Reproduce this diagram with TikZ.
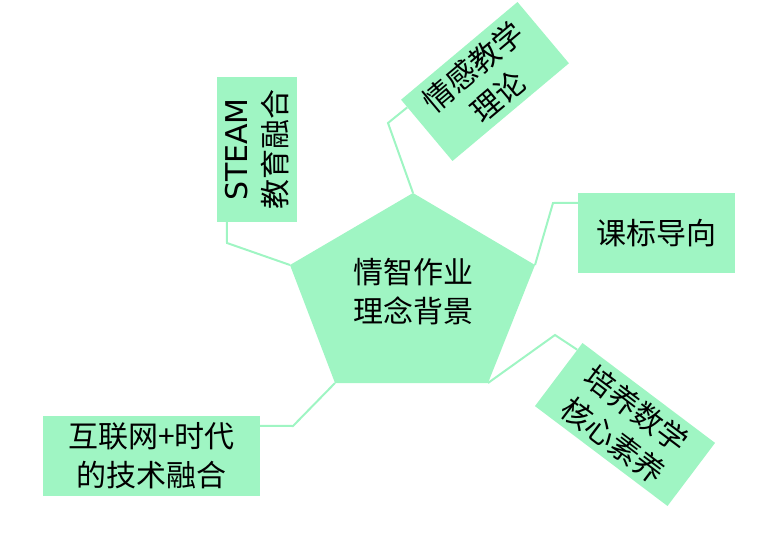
\documentclass[tikz,border=0pt]{standalone}
\usepackage{fontspec}
\setmainfont{Noto Sans CJK SC}
\newfontfamily\latinfont{DejaVu Sans}
\usetikzlibrary{calc}

\definecolor{mint}{HTML}{9FF5C3}

\begin{document}
\begin{tikzpicture}[
    x = 1pt, y = -1pt,
    every node/.style = {font = \fontsize{30}{39}\selectfont, align = center},
    topic/.style = {fill = mint, inner sep = 0pt, minimum height = 80pt},
    link/.style = {draw = mint, line width = 2pt},
  ]
  \useasboundingbox (0,0) rectangle (766,533);

  % pentagon corners
  \foreach \n/\x/\y in {p1/413/193, p2/535/265, p3/488/383, p4/335/383, p5/290/265}
    \coordinate (\n) at (\x,\y);
  \fill [mint] (p1) -- (p2) -- (p3) -- (p4) -- (p5) -- cycle;
  \node (core) at (413,292) {情智作业\\理念背景};

  % topics
  \node [topic, minimum width = 145pt, minimum height = 80pt, rotate = 90]
        (steam) at (257,149.5) {{\latinfont STEAM}\\教育融合};
  \node [topic, minimum width = 152pt, rotate = 40]
        (qg) at (485,81.5) {情感教学\\理论};
  \node [topic, minimum width = 157pt] (kb) at (656.5,233) {课标导向};
  \node [topic, minimum width = 166pt, minimum height = 79pt, rotate = -37]
        (hx) at (625,424.5) {培养数学\\核心素养};
  \node [topic, minimum width = 217pt] (hl) at (151.5,456) {互联网+时代\\的技术融合};

  % bends
  \coordinate (b steam) at (227,243);
  \coordinate (b qg) at (388,123);
  \coordinate (b kb) at (553,203);
  \coordinate (b hx) at (555,335);
  \coordinate (b hl) at (293,426);

  \draw [link] ($(steam.north west)!0.125!(steam.south west)$) -- (b steam) -- (p5);
  \draw [link] ($(qg.north west)!0.125!(qg.south west)$) -- (b qg) -- (p1);
  \draw [link] ($(kb.north west)!0.125!(kb.south west)$) -- (b kb) -- (p2);
  \draw [link] ($(hx.north west)!0.11!(hx.south west)$) -- (b hx) -- (p3);
  \draw [link] ($(hl.north east)!0.125!(hl.south east)$) -- (b hl) -- (p4);
\end{tikzpicture}
\end{document}
